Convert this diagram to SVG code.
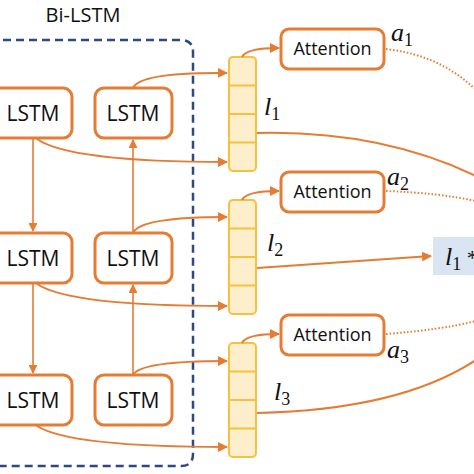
<svg xmlns="http://www.w3.org/2000/svg" width="474" height="474" viewBox="0 0 474 474">
<style>
.lstm{fill:#fff;stroke:#E57C33;stroke-width:3}
.att{fill:#fff;stroke:#E57C33;stroke-width:3}
.vec{fill:#FDEFCB;stroke:#F4C23E;stroke-width:2}
.cell{stroke:#F4C23E;stroke-width:2}
.t{font-family:"Open Sans","Liberation Sans",sans-serif;fill:#111;text-anchor:middle}
.m{font-family:"Liberation Serif","DejaVu Serif",serif;font-style:italic;fill:#111;font-size:26px}
.s{font-style:normal;font-size:18px}
.c{fill:none;stroke:#E57C33;stroke-width:2}
.v{fill:none;stroke:#E57C33;stroke-width:1.6}
.d{fill:none;stroke:#E57C33;stroke-width:2;stroke-dasharray:1.5 2}
</style>
<defs>
<marker id="ah" viewBox="0 0 10 10" refX="9" refY="5" markerWidth="5" markerHeight="5" orient="auto" markerUnits="strokeWidth">
<path d="M0,0 L10,5 L0,10 z" fill="#E57C33"/>
</marker>
<marker id="ahv" viewBox="0 0 10 10" refX="9" refY="5" markerWidth="5.5" markerHeight="5.5" orient="auto" markerUnits="strokeWidth">
<path d="M0,0 L10,5 L0,10 z" fill="#E57C33"/>
</marker>
</defs>
<rect width="474" height="474" fill="#fff"/>
<g id="bilstm-frame">
<path d="M-10,40 H181 Q193,40 193,52 V454 Q193,466 181,466 H-10" fill="none" stroke="#2C4A80" stroke-width="2.5" stroke-dasharray="8 5"/>
<text class="t" x="83" y="22" font-size="20">Bi-LSTM</text>
</g>
<g id="lstm-1-1"><rect class="lstm" x="-8" y="88" width="80" height="50" rx="9"/><text class="t" x="33" y="121" font-size="21">LSTM</text></g>
<g id="lstm-1-2"><rect class="lstm" x="95" y="88" width="77" height="50" rx="9"/><text class="t" x="133" y="121" font-size="21">LSTM</text></g>
<g id="lstm-2-1"><rect class="lstm" x="-8" y="233" width="80" height="50" rx="9"/><text class="t" x="33" y="266" font-size="21">LSTM</text></g>
<g id="lstm-2-2"><rect class="lstm" x="95" y="233" width="77" height="50" rx="9"/><text class="t" x="133" y="266" font-size="21">LSTM</text></g>
<g id="lstm-3-1"><rect class="lstm" x="-8" y="375" width="80" height="50" rx="9"/><text class="t" x="33" y="408" font-size="21">LSTM</text></g>
<g id="lstm-3-2"><rect class="lstm" x="95" y="375" width="77" height="50" rx="9"/><text class="t" x="133" y="408" font-size="21">LSTM</text></g>
<g id="vec-1"><rect class="vec" x="229" y="57" width="27" height="114" rx="4"/><path class="cell" d="M229,85.5 H256 M229,114 H256 M229,142.5 H256"/></g>
<g id="vec-2"><rect class="vec" x="229" y="200" width="27" height="114" rx="4"/><path class="cell" d="M229,228.5 H256 M229,257 H256 M229,285.5 H256"/></g>
<g id="vec-3"><rect class="vec" x="229" y="343" width="27" height="114" rx="4"/><path class="cell" d="M229,371.5 H256 M229,400 H256 M229,428.5 H256"/></g>
<g id="att-1"><rect class="att" x="281" y="29" width="103" height="40" rx="8"/><text class="t" x="332.5" y="55" font-size="18">Attention</text></g>
<g id="att-2"><rect class="att" x="281" y="172" width="103" height="40" rx="8"/><text class="t" x="332.5" y="198" font-size="18">Attention</text></g>
<g id="att-3"><rect class="att" x="281" y="315" width="103" height="40" rx="8"/><text class="t" x="332.5" y="341" font-size="18">Attention</text></g>
<g id="result"><rect x="433" y="237" width="45" height="38" fill="#DAE5F3"/><text class="m" x="445" y="265">l<tspan class="s" dy="5">1</tspan><tspan dy="-5" font-style="normal" font-size="22"> *</tspan></text></g>
<g id="labels">
<text class="m" x="391" y="41">a<tspan class="s" dy="5">1</tspan></text>
<text class="m" x="387" y="185">a<tspan class="s" dy="5">2</tspan></text>
<text class="m" x="387" y="358">a<tspan class="s" dy="5">3</tspan></text>
<text class="m" x="264" y="115">l<tspan class="s" dy="5">1</tspan></text>
<text class="m" x="267" y="251">l<tspan class="s" dy="5">2</tspan></text>
<text class="m" x="274" y="400">l<tspan class="s" dy="5">3</tspan></text>
</g>
<g id="connectors">
<path class="v" d="M33,138 V231" marker-end="url(#ahv)"/>
<path class="v" d="M33,283 V373" marker-end="url(#ahv)"/>
<path class="v" d="M133,233 V140" marker-end="url(#ahv)"/>
<path class="v" d="M133,375 V285" marker-end="url(#ahv)"/>
<path class="c" d="M133,88 Q140,72 227,73" marker-end="url(#ah)"/>
<path class="c" d="M37,139 Q70,162 227,162" marker-end="url(#ah)"/>
<path class="c" d="M133,233 Q140,217 227,217" marker-end="url(#ah)"/>
<path class="c" d="M37,284 Q70,306 227,306" marker-end="url(#ah)"/>
<path class="c" d="M133,375 Q140,361 227,361" marker-end="url(#ah)"/>
<path class="c" d="M37,426 Q70,447 227,447" marker-end="url(#ah)"/>
<path class="c" d="M242,57 Q246,48 279,48" marker-end="url(#ah)"/>
<path class="c" d="M242,200 Q246,191 279,191" marker-end="url(#ah)"/>
<path class="c" d="M242,343 Q246,334 279,334" marker-end="url(#ah)"/>
<path class="c" d="M257,133 Q380,130 476,176"/>
<path class="c" d="M257,268 L431,256" marker-end="url(#ah)"/>
<path class="c" d="M257,413 Q400,410 476,360"/>
<path class="d" d="M386,49 Q440,55 476,90"/>
<path class="d" d="M386,191 Q440,193 476,201"/>
<path class="d" d="M386,334 Q440,330 476,321"/>
</g>
</svg>
